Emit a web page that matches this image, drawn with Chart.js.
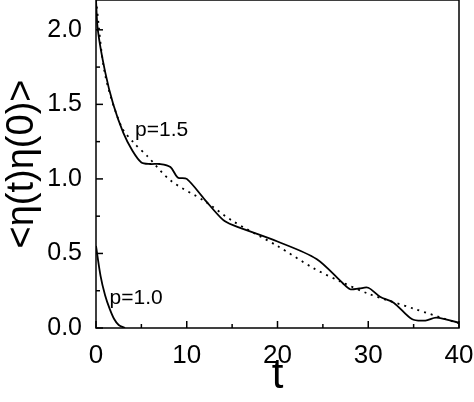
<!DOCTYPE html>
<html><head>
<script src="https://cdn.jsdelivr.net/npm/chart.js@4"></script>
<style>body{margin:0;background:#fff}#wrap{width:474px;height:402px}</style>
</head><body><div id="wrap"><canvas id="c"></canvas></div>
<script>
// p=1.5 simulation (solid)
const p15T = [0, 0.2, 1.0, 1.9, 3.0, 4.0, 5.0, 6.0, 7.0, 8.2, 9.0, 10, 12, 14, 15.1, 20, 24.3, 27.2, 28, 29, 30, 31.3, 32.8, 34.8, 36.3, 37.5, 40];
const p15Y = [2.2, 2.0, 1.72, 1.5, 1.31, 1.19, 1.11, 1.1, 1.1, 1.08, 1.01, 1.0, 0.86, 0.725, 0.69, 0.58, 0.463, 0.30, 0.26, 0.265, 0.27, 0.21, 0.17, 0.06, 0.05, 0.07, 0.035];
// p=1.5 fit (dotted)
const fitT = [0, 1.0, 2.8, 4.2, 5.7, 8.2, 12, 15, 20, 24, 27, 30, 35, 40];
const fitY = [2.2, 1.7, 1.35, 1.24, 1.15, 0.99, 0.85, 0.72, 0.55, 0.40, 0.31, 0.23, 0.13, 0.03];
// p=1.0 (solid)
const p10T = [0, 0.5, 1.0, 1.5, 2.0, 2.5, 3.2];
const p10Y = [0.55, 0.35, 0.22, 0.13, 0.06, 0.02, 0];
const xTicks = [0, 10, 20, 30, 40];
const yTicks = [0.0, 0.5, 1.0, 1.5, 2.0];

const pts = (t, y) => t.map((v, i) => ({ x: v, y: y[i] }));
const font = 'Liberation Sans, Arial, sans-serif';

const deco = {
  id: 'deco',
  afterDraw(chart) {
    const { ctx, chartArea: a, scales: { x, y } } = chart;
    ctx.save();
    ctx.strokeStyle = '#000';
    ctx.lineWidth = 1.5;
    ctx.strokeRect(a.left, a.top, a.right - a.left, a.bottom - a.top);
    for (let v = 0; v <= 40; v += 5) {
      const px = x.getPixelForValue(v), len = v % 10 === 0 ? 7 : 4;
      ctx.beginPath(); ctx.moveTo(px, a.bottom); ctx.lineTo(px, a.bottom - len); ctx.stroke();
    }
    for (let v = 0; v <= 2.2; v += 0.25) {
      const py = y.getPixelForValue(v), len = Math.round(v * 4) % 2 === 0 ? 7 : 4;
      ctx.beginPath(); ctx.moveTo(a.left, py); ctx.lineTo(a.left + len, py); ctx.stroke();
    }
    ctx.fillStyle = '#000';
    ctx.font = '21px ' + font;
    ctx.textBaseline = 'middle';
    ctx.fillText('p=1.5', x.getPixelForValue(4.3), y.getPixelForValue(1.33));
    ctx.fillText('p=1.0', x.getPixelForValue(1.5), y.getPixelForValue(0.2));
    ctx.restore();
  }
};

new Chart(document.getElementById('c'), {
  type: 'scatter',
  data: {
    datasets: [
      { data: pts(p15T, p15Y), showLine: true, borderColor: '#000', borderWidth: 1.8, pointRadius: 0, tension: 0.3 },
      { data: pts(fitT, fitY), showLine: true, borderColor: '#000', borderWidth: 1.8, borderDash: [2, 5], pointRadius: 0, tension: 0.3 },
      { data: pts(p10T, p10Y), showLine: true, borderColor: '#000', borderWidth: 1.8, pointRadius: 0, tension: 0.3 }
    ]
  },
  options: {
    responsive: true, maintainAspectRatio: false, animation: false,
    layout: { padding: { right: 15, top: 0 } },
    plugins: { legend: { display: false }, tooltip: { enabled: false } },
    scales: {
      x: {
        min: 0, max: 40,
        afterBuildTicks: s => { s.ticks = xTicks.map(v => ({ value: v })); },
        afterFit: s => { s.height = 74; s.paddingLeft = 0; s.paddingRight = 0; },
        grid: { display: false }, border: { display: false },
        ticks: { color: '#000', font: { size: 26, family: font }, padding: 4, maxRotation: 0 },
        title: { display: true, text: 't', color: '#000', font: { size: 42, family: font }, padding: 0 }
      },
      y: {
        min: 0, max: 2.2,
        afterBuildTicks: s => { s.ticks = yTicks.map(v => ({ value: v })); },
        afterFit: s => { s.width = 96; s.paddingTop = 0; s.paddingBottom = 0; },
        grid: { display: false }, border: { display: false },
        ticks: { color: '#000', font: { size: 25, family: font }, padding: 6, callback: v => v.toFixed(1) },
        title: { display: true, text: '<η(t)η(0)>', color: '#000', font: { size: 38, family: font }, padding: 0 }
      }
    }
  },
  plugins: [deco]
});
</script></body></html>
